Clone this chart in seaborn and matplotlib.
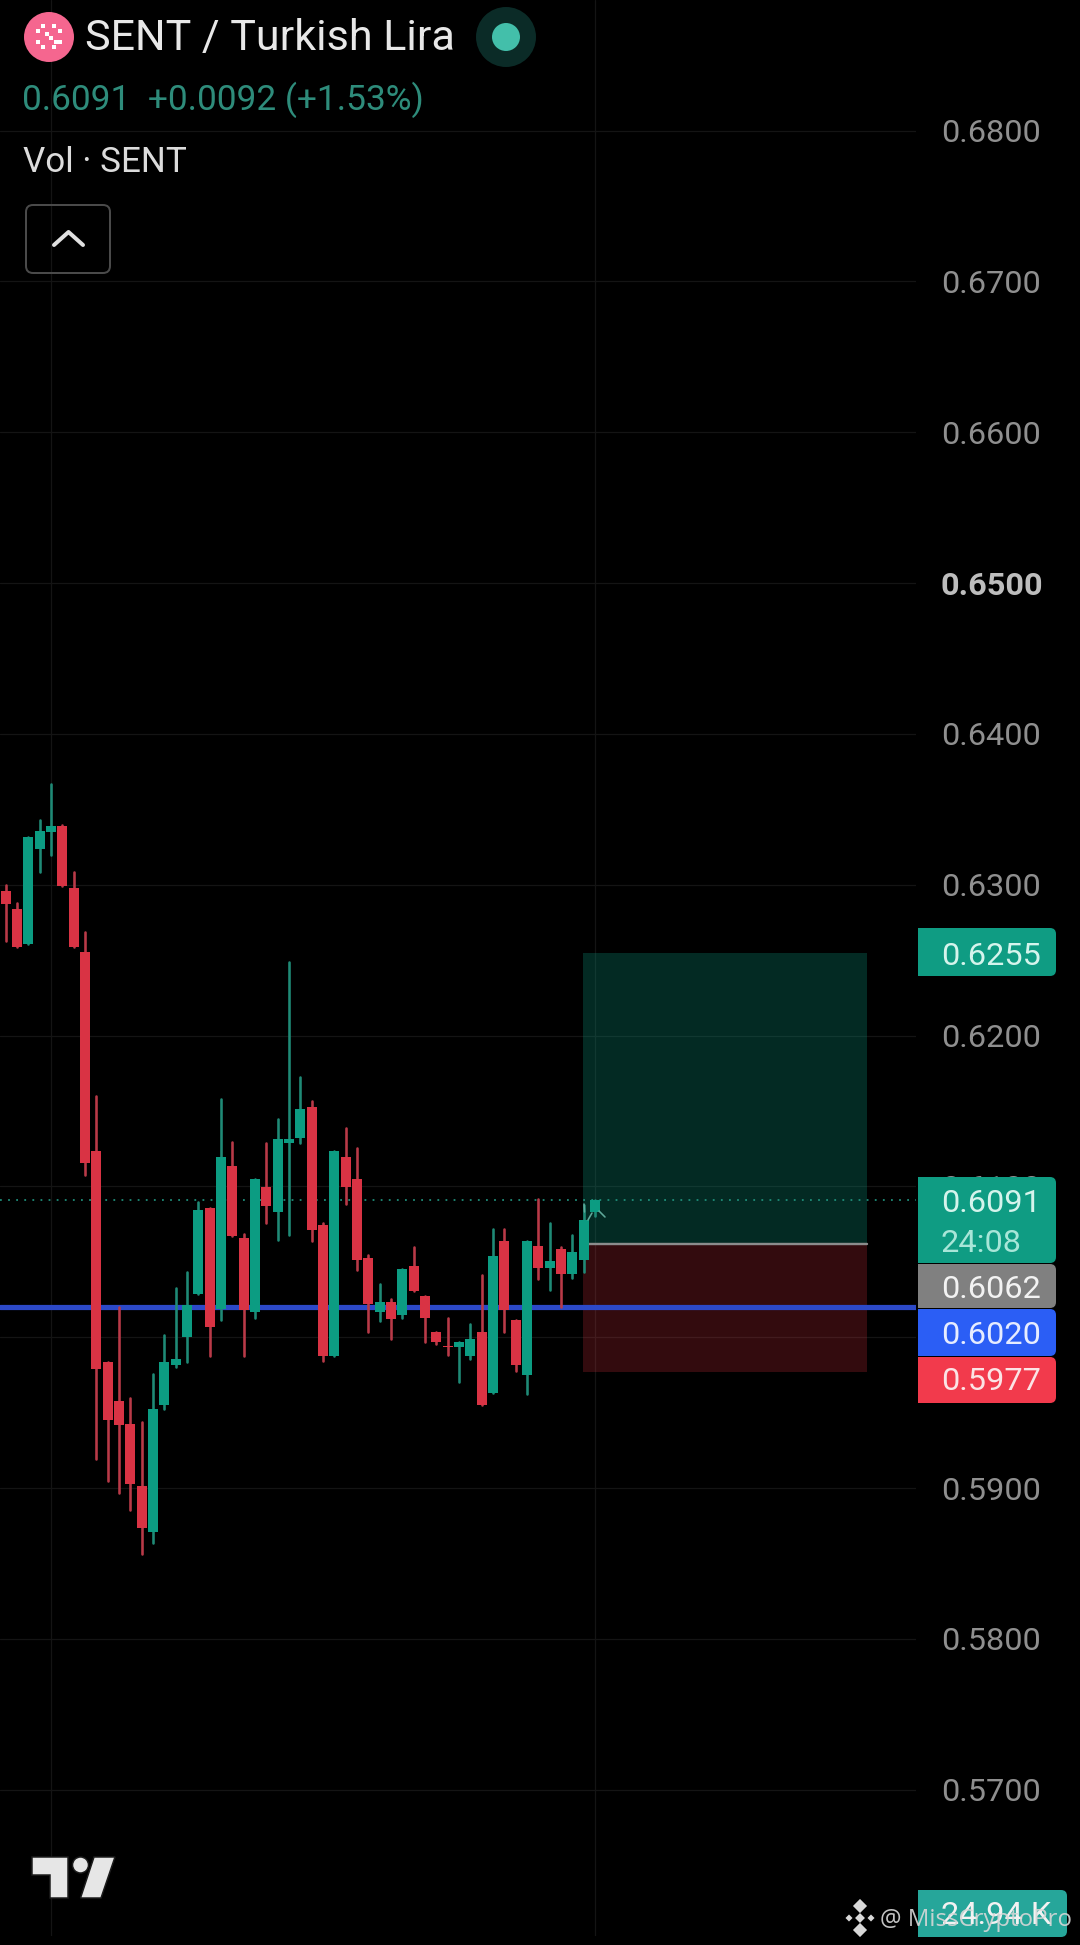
import matplotlib
matplotlib.use('Agg')

import matplotlib.pyplot as plt
import pandas as pd
import seaborn as sns
from matplotlib.patches import Circle, FancyBboxPatch, Polygon, Rectangle

# Candles
HIGH = [.62998, .62881, .63316, .63429, .63668, .63396, .63082, .62684, .61599, .59836,
        .60202, .59595, .59438, .59754, .60014, .60324, .60430, .60896, .60857, .61581,
        .61294, .60682, .61049, .61289, .61447, .62487, .61727, .61566, .60757, .61234,
        .61385, .61254, .60545, .60353, .60253, .60452, .60600, .60273, .60034, .60127,
        .59968, .60087, .60412, .60717, .60717, .60114, .60638, .60916, .60757, .60598,
        .60678, .60876, .60910]
BODY_TOP = [.62958, .62839, .63316, .63356, .63389, .63389, .62978, .62554, .61234, .59836,
            .59577, .59425, .59013, .59524, .59836, .59855, .60213, .60843, .60857, .61195,
            .61135, .60658, .61049, .60996, .61312, .61314, .61513, .61528, .60744, .61234,
            .61195, .61049, .60525, .60233, .60233, .60452, .60472, .60273, .60034, .59942,
            .59968, .59988, .60034, .60538, .60638, .60114, .60638, .60605, .60505, .60585,
            .60565, .60777, .60910]
BODY_BOTTOM = [.62872, .62589, .62609, .63235, .63351, .62993, .62589, .61153, .59791, .59451,
               .59418, .59027, .58735, .58708, .59550, .59816, .60001, .60288, .60067, .60187,
               .60671, .60180, .60167, .60870, .60830, .61287, .61321, .60710, .59875, .59875,
               .60996, .60512, .60220, .60167, .60120, .60147, .60306, .60127, .59968, .59932,
               .59937, .59875, .59550, .59630, .60180, .59816, .59749, .60459, .60459, .60419,
               .60419, .60512, .60830]
LOW = [.62627, .62589, .62609, .63086, .63199, .62993, .62589, .61077, .59192, .59047,
       .58969, .58854, .58563, .58637, .59524, .59804, .59836, .60288, .59875, .60114,
       .60671, .59875, .60127, .60757, .60644, .60678, .61287, .60638, .59842, .59875,
       .60883, .60446, .60034, .60107, .59988, .60127, .60306, .59968, .59955, .59882,
       .59703, .59855, .59550, .59630, .60034, .59776, .59623, .60386, .60313, .60200,
       .60392, .60432, .60804]
DIRECTION = ["down", "down", "up", "up", "up", "down", "down", "down", "down", "down",
             "down", "down", "down", "up", "up", "up", "up", "up", "down", "up",
             "down", "down", "up", "down", "up", "up", "up", "down", "down", "up",
             "down", "down", "down", "up", "down", "up", "down", "down", "down", "down",
             "up", "up", "down", "up", "down", "down", "up", "down", "up", "down",
             "up", "up", "up"]

PRICE_TICKS = [.57, .58, .59, .60, .61, .62, .63, .64, .65, .66, .67, .68]
LAST_PRICE = 0.6091
BLUE_LEVEL = 0.6020
TARGET = 0.6255
ENTRY = 0.6062
STOP = 0.5977
POSITION_SPAN = (50.93, 76.0)
TIME_MARKS = [4, 52]

UP_COLOR = "#0c9c82"
DOWN_COLOR = "#d93344"
PX = 0.72  # points per pixel at dpi 100

sns.set_theme(style="dark", rc={"axes.facecolor": "black", "figure.facecolor": "black"})
plt.rcParams['font.family'] = ['Roboto', 'DejaVu Sans']

df = pd.DataFrame({"i": range(len(HIGH)), "high": HIGH, "top": BODY_TOP,
                   "bottom": BODY_BOTTOM, "low": LOW, "direction": DIRECTION})
df["size"] = df["top"] - df["bottom"]

fig = plt.figure(figsize=(10.8, 19.45), dpi=100)
ax = fig.add_axes([0, 9 / 1945, 916 / 1080, 1936 / 1945])

for low, high, color, alpha in [(ENTRY, TARGET, UP_COLOR, 0.27), (STOP, ENTRY, "#f23645", 0.21)]:
    ax.add_patch(Rectangle((POSITION_SPAN[0], low), POSITION_SPAN[1] - POSITION_SPAN[0], high - low,
                           facecolor=color, alpha=alpha, linewidth=0, zorder=1))
ax.plot(POSITION_SPAN, [ENTRY, ENTRY], color="#8c8c8c", lw=2.4 * PX, zorder=1.5)

ax.axhline(BLUE_LEVEL, color="#2c49c8", lw=5.2 * PX, zorder=1.6)
ax.axhline(LAST_PRICE, color="#1f8e7a", lw=1.8 * PX, ls=(0, (1, 3.5)), zorder=1.6)

# wicks then bodies, one pass per direction
for name, body_color, wick_color in [("up", UP_COLOR, "#1f8a76"), ("down", DOWN_COLOR, "#b93a48")]:
    part = df[df["direction"] == name]
    wicks = part.melt(id_vars="i", value_vars=["high", "low"], value_name="price")
    sns.lineplot(data=wicks, x="i", y="price", units="i", estimator=None, color=wick_color,
                 lw=2.6 * PX, ax=ax, legend=False, zorder=2)
    sns.barplot(data=part, x="i", y="size", bottom=part["bottom"].values, native_scale=True,
                width=0.88, color=body_color, saturation=1, errorbar=None, linewidth=0,
                ax=ax, zorder=3)

ax.set_xlim(-0.503, 80.34)
ax.set_ylim(0.56030, 0.68866)
ax.set_xlabel("")
ax.set_ylabel("")
for side in ax.spines.values():
    side.set_visible(False)
ax.set_xticks(TIME_MARKS)
ax.set_xticklabels([])
ax.set_yticks(PRICE_TICKS)
ax.set_yticklabels([f"{p:.4f}" for p in PRICE_TICKS])
ax.yaxis.tick_right()
ax.tick_params(axis="both", length=0)
ax.tick_params(axis="y", labelsize=32.5 * PX, labelcolor="#8f8f8f", pad=25 * PX)
ax.grid(True, color="#141414", lw=1.3 * PX, zorder=0)
ax.set_axisbelow(True)
for label in ax.get_yticklabels():
    if label.get_text() == "0.6500":
        label.set_fontweight("bold")
        label.set_color("#bdbdbd")

# everything drawn on the app chrome goes on a pixel overlay
ui = fig.add_axes([0, 0, 1, 1], zorder=5)
ui.set_xlim(0, 1080)
ui.set_ylim(1945, 0)
ui.axis("off")
ui.patch.set_visible(False)


def price_tag(top, bottom, color, lines, right=1056):
    ui.add_patch(FancyBboxPatch((918, top), right - 918, bottom - top, linewidth=0, facecolor=color,
                                boxstyle="round,pad=0,rounding_size=6"))
    ui.add_patch(Rectangle((918, top), 20, bottom - top, facecolor=color, linewidth=0))
    for text, y, text_color in lines:
        ui.text(941, y, text, color=text_color, fontsize=32.5 * PX, va="center_baseline", ha="left")


price_tag(928, 976, "#0f9c83", [("0.6255", 953, "#d5f4ec")])
price_tag(1177, 1263, "#0f9c83", [("0.6091", 1200, "#d5f4ec"), ("24:08", 1240, "#a8e6d8")])
price_tag(1264, 1308, "#808080", [("0.6062", 1286, "#f2f2f2")])
price_tag(1309, 1356, "#2b5ef5", [("0.6020", 1333, "#e6ecff")])
price_tag(1357, 1403, "#f23a4c", [("0.5977", 1379, "#fbe3e5")])
price_tag(1890, 1937, "#26a69a", [("24.94 K", 1912, "#f2f2f2")], right=1067)

# live candle glyph
for xs, ys in [((584, 584.5), (1204, 1212)), ((592, 588), (1213, 1220)), ((599, 605), (1211, 1217))]:
    ui.plot(xs, ys, color="#5fa99a", lw=1.6 * PX)

# header
ui.add_patch(Circle((49, 37), 25, facecolor="#f5668f", linewidth=0))
ui.scatter([43, 54, 38, 60, 47, 51, 56, 38, 43, 54, 60],
           [26, 26, 31, 31, 34, 38, 42, 42, 47, 47, 42],
           marker="s", s=(5 * PX) ** 2, color="white", linewidths=0)
ui.text(85, 50, "SENT / Turkish Lira", color="#e8e8e8", fontsize=43 * PX)
ui.add_patch(Circle((506, 37), 30, facecolor="#0b2b27", linewidth=0))
ui.add_patch(Circle((506, 37), 14, facecolor="#43bfaa", linewidth=0))
ui.text(22, 110, "0.6091  +0.0092 (+1.53%)", color="#2e8c7b", fontsize=35.2 * PX)
ui.text(23, 172, "Vol · SENT", color="#dcdcdc", fontsize=35 * PX)
ui.add_patch(FancyBboxPatch((26, 205), 84, 68, facecolor="none", edgecolor="#4a4a4a", lw=2 * PX,
                            boxstyle="round,pad=0,rounding_size=7"))
ui.plot([54, 68.5, 83], [245, 232, 245], color="#e0e0e0", lw=4 * PX, solid_capstyle="round")

# TradingView mark
logo_t = [(32, 1857), (67.5, 1857), (67.5, 1898), (50, 1898), (50, 1875), (32, 1875)]
logo_slash = [(94, 1857), (115, 1857), (101, 1898), (80.5, 1898)]
for shape in (logo_t, logo_slash):
    ui.add_patch(Polygon(shape, closed=True, facecolor="#e6e6e6", edgecolor="#1c1c1c", lw=1.5 * PX))
ui.add_patch(Circle((80.5, 1865), 8, facecolor="#e6e6e6", edgecolor="#1c1c1c", lw=1.5 * PX))

# watermark on top of the volume tag
ui.scatter([860, 860, 860, 849, 871], [1918, 1906, 1930, 1918, 1918], marker="D",
           s=[(7 * PX) ** 2, (10 * PX) ** 2, (10 * PX) ** 2, (5 * PX) ** 2, (5 * PX) ** 2],
           color="#d8d8d8", linewidths=0, zorder=6)
ui.text(880, 1926, "@ MissCryptoPro", color="#d8d8d8", alpha=0.9, fontsize=24 * PX,
        family=["Open Sans", "DejaVu Sans"], zorder=6)

fig.savefig("out.png", dpi=100, facecolor="black")
plt.close(fig)
